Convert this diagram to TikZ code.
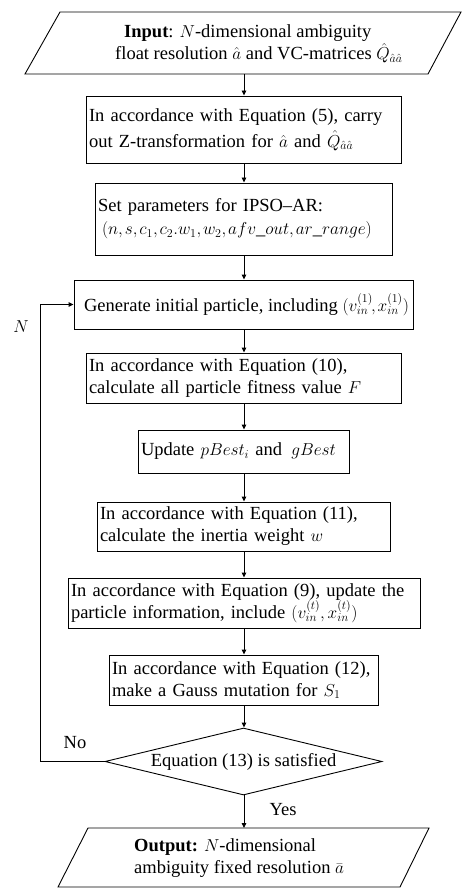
\documentclass[tikz,border=0pt]{standalone}
\usepackage{fontspec}
\setmainfont{Liberation Serif}
\usetikzlibrary{arrows.meta,shapes.geometric}
\begin{document}
\begin{tikzpicture}[x=1pt,y=-1pt,
  every node/.style={font=\fontsize{18.5}{22}\selectfont},
  flowbox/.style={draw,line width=0.9pt,inner xsep=3pt,inner ysep=2pt,align=left},
  flowline/.style={line width=0.9pt},
  flowarrow/.style={line width=0.9pt,-{Triangle[length=5pt,width=4.5pt]}},
  lbl/.style={inner sep=0pt}]
\useasboundingbox (0,0) rectangle (474,896);
% input parallelogram
\coordinate (i1) at (60,12); \coordinate (i2) at (461,12);
\coordinate (i3) at (428,74); \coordinate (i4) at (25,74);
\draw[flowline] (i1) -- (i2) -- (i3) -- (i4) -- cycle;
\node[align=left,inner sep=0pt,anchor=west] (in) at (115,44) {\hspace*{9pt}\textbf{Input}: $N$-dimensional ambiguity\\ float resolution $\hat a$ and VC-matrices $\hat Q_{\hat a\hat a}$};
\coordinate (inb) at (244,74);
% boxes
\node[flowbox,text width=309,minimum height=67] (b2) at (243.5,129.5)
  {In accordance with Equation (5), carry\\[4pt] out Z-transformation for $\hat a$ and $\hat Q_{\hat a\hat a}$};
\node[flowbox,text width=291,minimum height=72] (b3) at (243.5,219)
  {Set parameters for IPSO--AR:\\[1pt] \hspace*{4pt}$\thinmuskip=2mu(n,s,c_1,c_2.w_1,w_2,afv\_out,ar\_range)$};
\node[flowbox,align=center,minimum width=339,minimum height=49] (b4) at (243.5,304.5)
  {\hspace*{6pt}Generate initial particle, including $\thinmuskip=2mu(v_{in}^{(1)}\!,x_{in}^{(1)})$};
\node[flowbox,text width=309,minimum height=50] (b5) at (243.5,378)
  {In accordance with Equation (10),\\ calculate all particle fitness value $F$};
\node[flowbox,text width=205,minimum height=43] (b6) at (243.5,451.5)
  {Update $pBest_i$ and\, $gBest$};
\node[flowbox,text width=287,minimum height=49] (b7) at (243.5,526.5)
  {In accordance with Equation (11),\\ calculate the inertia weight $w$};
\node[flowbox,text width=346,minimum height=50] (b8) at (244,603)
  {In accordance with Equation (9), update the\\ particle information, include $(v_{in}^{(t)},x_{in}^{(t)})$};
\node[flowbox,text width=263,minimum height=50] (b9) at (243.5,680)
  {In accordance with Equation (12),\\ make a Gauss mutation for $S_1$};
\node[diamond,draw,line width=0.9pt,inner sep=0pt,aspect=4.1,minimum width=277,minimum height=67] (d) at (243.5,761.5)
  {Equation (13) is satisfied};
% output parallelogram
\coordinate (o1) at (88,828); \coordinate (o2) at (429,828);
\coordinate (o3) at (400,887); \coordinate (o4) at (58,887);
\draw[flowline] (o1) -- (o2) -- (o3) -- (o4) -- cycle;
\node[align=left,inner sep=0pt,anchor=west] (out) at (134,858) {\textbf{Output:} $N$-dimensional\\ ambiguity fixed resolution $\bar a$};
\coordinate (ot) at (244,828);
% connectors
\draw[flowarrow] (inb) -- (b2.north -| inb);
\draw[flowarrow] (b2.south -| inb) -- (b3.north -| inb);
\draw[flowarrow] (b3.south -| inb) -- (b4.north -| inb);
\draw[flowarrow] (b4.south -| inb) -- (b5.north -| inb);
\draw[flowarrow] (b5.south -| inb) -- (b6.north -| inb);
\draw[flowarrow] (b6.south -| inb) -- (b7.north -| inb);
\draw[flowarrow] (b7.south -| inb) -- (b8.north -| inb);
\draw[flowarrow] (b8.south -| inb) -- (b9.north -| inb);
\draw[flowarrow] (b9.south -| inb) -- (d.north -| inb);
\draw[flowarrow] (d.south -| inb) -- (ot);
\coordinate (lp) at (40,761.5);
\draw[flowarrow] (d.west) -- (lp) |- (b4.west);
% labels
\node[lbl] (no) at (75,743) {No};
\node[lbl] (yes) at (283,810) {Yes};
\node[lbl] (nn) at (21,327) {$N$};
\end{tikzpicture}
\end{document}
